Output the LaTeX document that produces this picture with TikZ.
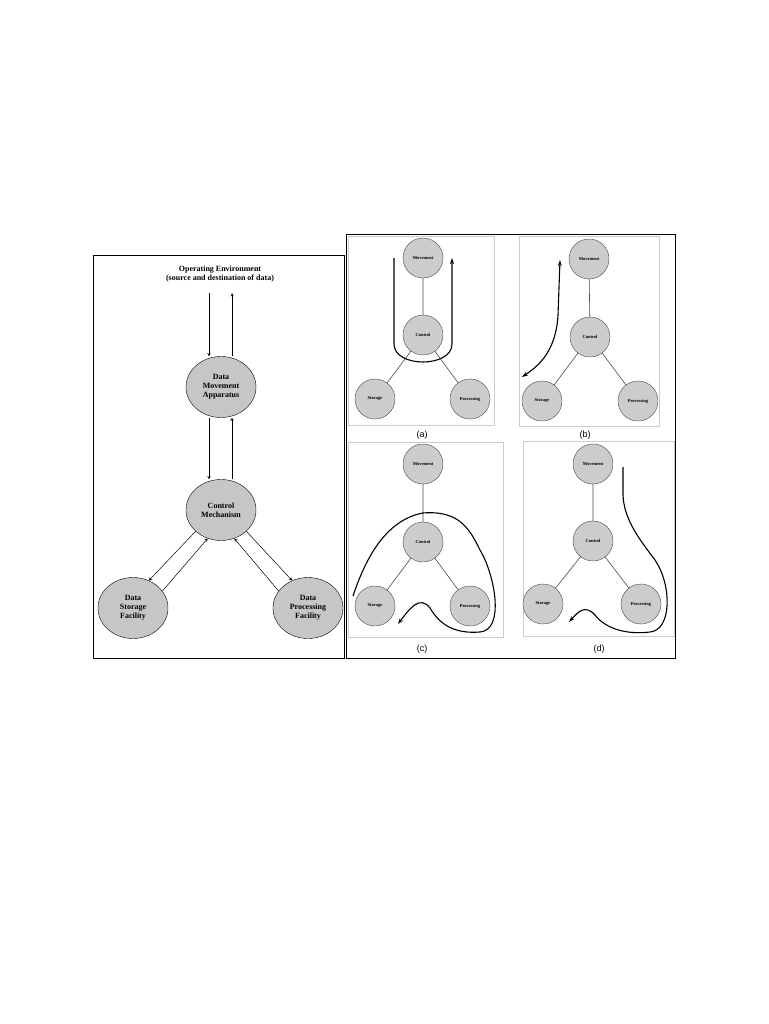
\documentclass[tikz,border=0pt]{standalone}
\usepackage{fontspec}
\setmainfont{Liberation Serif}
\setsansfont{Liberation Sans}
\usetikzlibrary{shapes.geometric,arrows.meta}
\begin{document}
\begin{tikzpicture}[x=1pt,y=-1pt,
  big/.style={ellipse,draw=black,fill=gray!45,minimum width=70pt,minimum height=61pt,inner sep=0pt,align=center,font=\bfseries\fontsize{8}{9}\selectfont},
  sm/.style={circle,draw=gray!60!black,fill=gray!40,minimum size=40pt,inner sep=0pt,font=\bfseries\fontsize{4.5}{5}\selectfont},
  link/.style={draw=gray!60!black,line width=0.6pt},
  arr/.style={-stealth,line width=0.5pt},
  flow/.style={-{Stealth[length=6pt,width=4pt]},line width=1.1pt},
  sub/.style={draw=gray!40,line width=0.5pt},
  subcap/.style={font=\sffamily\fontsize{9}{10}\selectfont}]
\useasboundingbox (0,0) rectangle (768,1024);
\fill[white] (0,0) rectangle (768,1024);
% left panel
\draw[line width=0.7pt] (93,255) rectangle (344,658);
\node[align=center,font=\bfseries\fontsize{8}{9.5}\selectfont] (env) at (220,274) {Operating Environment\\(source and destination of data)};
\node[big] (dma) at (221,387) {Data\\Movement\\Apparatus};
\node[big] (ctl) at (221,510) {Control\\Mechanism};
\node[big] (dsf) at (133,608) {Data\\Storage\\Facility};
\node[big] (dpf) at (308,608) {Data\\Processing\\Facility};
\coordinate (e1) at (209,293); \coordinate (e2) at (232,293);
\draw[arr] (e1) -- (e1 |- dma.north);
\draw[arr] (e2 |- dma.north) -- (e2);
\draw[arr] (e1 |- dma.south) -- (e1 |- ctl.north);
\draw[arr] (e2 |- ctl.north) -- (e2 |- dma.south);
\draw[arr] (ctl.220) -- (dsf.60);
\draw[arr] (dsf.30) -- (ctl.245);
\draw[arr] (ctl.320) -- (dpf.120);
\draw[arr] (dpf.150) -- (ctl.295);
% right panel
\draw[line width=0.7pt] (346,234) rectangle (675,658);
% (a)
\draw[sub] (348,236) rectangle (494,425);
\node[sm] (am) at (423,258) {Movement};
\node[sm] (ac) at (423,335) {Control};
\node[sm] (as) at (375,399) {Storage};
\node[sm] (ap) at (470,399) {Processing};
\draw[link] (am) -- (ac) (ac) -- (as) (ac) -- (ap);
\node[subcap] (la) at (422,435) {(a)};
\draw[flow] (394,258) -- (394,344) .. controls (394,368) and (452,368) .. (452,344) -- (452,258);
% (b)
\draw[sub] (519,236) rectangle (659,426);
\node[sm] (bm) at (589,259) {Movement};
\node[sm] (bc) at (590,337) {Control};
\node[sm] (bs) at (542,401) {Storage};
\node[sm] (bp) at (638,401) {Processing};
\draw[link] (bm) -- (bc) (bc) -- (bs) (bc) -- (bp);
\node[subcap] (lb) at (585,435) {(b)};
\draw[{Stealth[length=6pt,width=4pt]}-{Stealth[length=6pt,width=4pt]},line width=1.1pt] (560,260) -- (558,315) .. controls (556,350) and (540,365) .. (522,377);
% (c)
\draw[sub] (348,442) rectangle (503,637);
\node[sm] (cm) at (423,464) {Movement};
\node[sm] (cc) at (423,542) {Control};
\node[sm] (cs) at (375,606) {Storage};
\node[sm] (cp) at (470,606) {Processing};
\draw[link] (cm) -- (cc) (cc) -- (cs) (cc) -- (cp);
\node[subcap] (lc) at (422,649) {(c)};
\draw[flow] (353,596) .. controls (365,560) and (385,520) .. (423,513) .. controls (460,510) and (470,530) .. (480,550) .. controls (495,575) and (505,630) .. (480,632) .. controls (455,634) and (440,625) .. (430,608) .. controls (420,595) and (410,608) .. (398,624);
% (d)
\draw[sub] (523,441) rectangle (674,636);
\node[sm] (dm) at (593,464) {Movement};
\node[sm] (dc) at (593,541) {Control};
\node[sm] (ds) at (543,604) {Storage};
\node[sm] (dp) at (641,604) {Processing};
\draw[link] (dm) -- (dc) (dc) -- (ds) (dc) -- (dp);
\node[subcap] (ld) at (599,649) {(d)};
\draw[flow] (623,467) -- (623,495) .. controls (624,520) and (640,540) .. (655,560) .. controls (672,585) and (672,630) .. (650,632) .. controls (625,635) and (605,628) .. (595,615) .. controls (585,604) and (578,612) .. (569,622);
\end{tikzpicture}
\end{document}
